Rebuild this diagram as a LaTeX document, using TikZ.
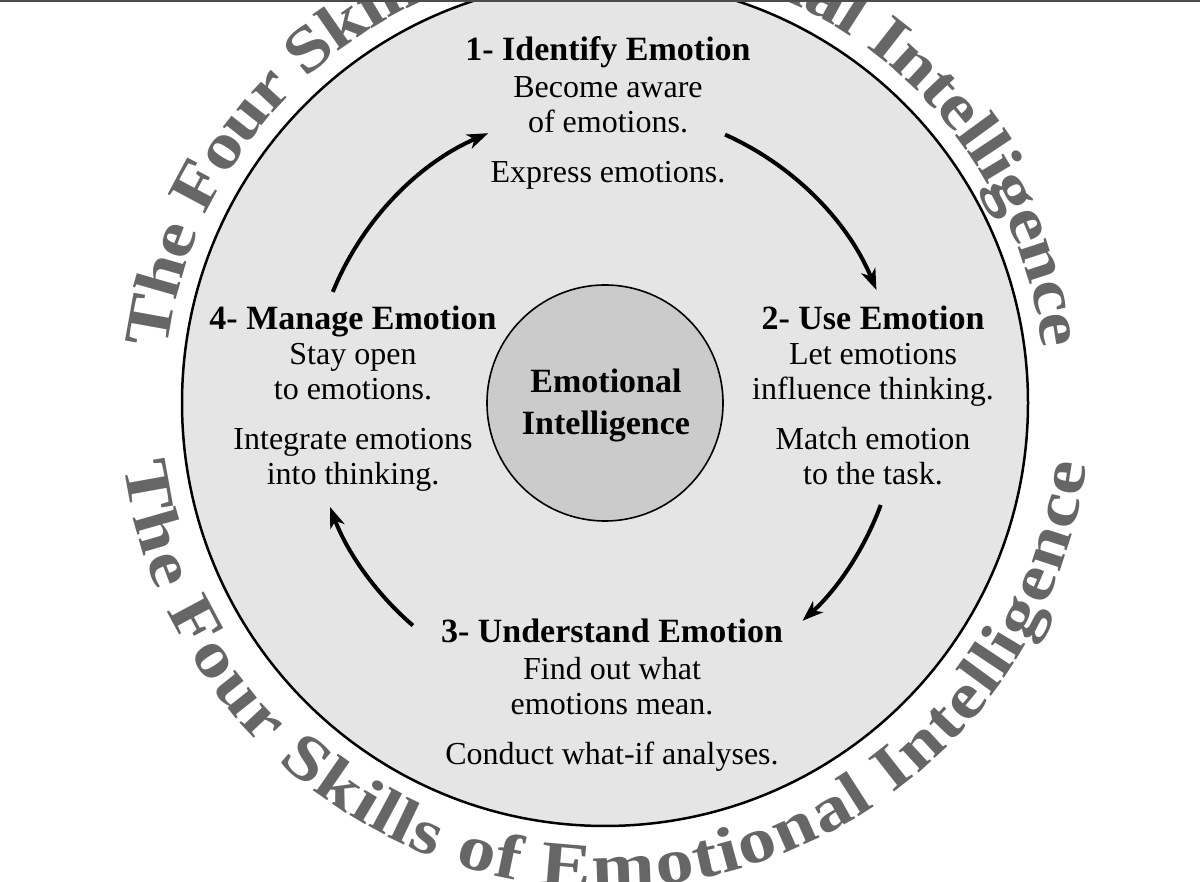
\documentclass[tikz,border=0pt]{standalone}
\usepackage{fontspec}
\setmainfont{Liberation Serif}
\newfontfamily\arcfont[FakeStretch=1.19]{Liberation Serif}
\usetikzlibrary{decorations.text,arrows.meta}
\definecolor{arcgray}{HTML}{666666}
\definecolor{outerfill}{HTML}{E5E5E5}
\definecolor{innerfill}{HTML}{CBCBCB}
\tikzset{
  head/.style={anchor=base, font=\bfseries\fontsize{34}{40}\selectfont, inner sep=0pt},
  body/.style={anchor=base, font=\fontsize{32}{38}\selectfont, inner sep=0pt},
  cyc/.style={line width=4pt, -{Stealth[length=21pt,width=15pt,inset=6pt]}},
  arctext/.style={decorate, decoration={text along path, text align=center,
      raise=-22pt, text color=arcgray,
      text={|\arcfont\bfseries\fontsize{64}{64}\selectfont|The Four Skills of Emotional Intelligence}}},
}
\begin{document}
\begin{tikzpicture}[x=1pt,y=1pt]
\clip (0,0) rectangle (1200,882);
\coordinate (C) at (605,479);
\coordinate (L) at (142,479);
% curved titles
\path[arctext] (L) arc[start angle=180,end angle=0,radius=463];
\path[arctext] (L) arc[start angle=180,end angle=360,radius=463];
% circles
\node[circle, draw, line width=2.5pt, fill=outerfill, minimum size=846pt, inner sep=0pt] (outer) at (C) {};
\node[circle, draw, line width=1.6pt, fill=innerfill, minimum size=236pt, inner sep=0pt] (inner) at (C) {};
\node[head] (ei1) at (606,489) {Emotional};
\node[head] (ei2) at (606,447) {Intelligence};
% block 1
\node[head] (h1) at (608,821.3) {1- Identify Emotion};
\node[body] (b1a) at (608,784.7) {Become aware};
\node[body] (b1b) at (608,749.3) {of emotions.};
\node[body] (b1c) at (608,699.3) {Express emotions.};
% block 2
\node[head] (h2) at (873,552) {2- Use Emotion};
\node[body] (b2a) at (873,517) {Let emotions};
\node[body] (b2b) at (873,482) {influence thinking.};
\node[body] (b2c) at (873,432.5) {Match emotion};
\node[body] (b2d) at (873,397) {to the task.};
% block 4
\node[head] (h4) at (353,552) {4- Manage Emotion};
\node[body] (b4a) at (353,517) {Stay open};
\node[body] (b4b) at (353,482) {to emotions.};
\node[body] (b4c) at (353,432.5) {Integrate emotions};
\node[body] (b4d) at (353,397) {into thinking.};
% block 3
\node[head] (h3) at (612,239) {3- Understand Emotion};
\node[body] (b3a) at (612,202) {Find out what};
\node[body] (b3b) at (612,167) {emotions mean.};
\node[body] (b3c) at (612,117) {Conduct what-if analyses.};
% cycle arrows
\coordinate (s41) at ([shift={(157.8:294)}]C);
\coordinate (s12) at ([shift={(65.9:294)}]C);
\coordinate (s23) at ([shift={(-20.3:294)}]C);
\coordinate (s34) at ([shift={(229.2:294)}]C);
\draw[cyc] (s41) arc[start angle=157.8,end angle=113.4,radius=294];
\draw[cyc] (s12) arc[start angle=65.9,end angle=22.6,radius=294];
\draw[cyc] (s23) arc[start angle=-20.3,end angle=-47.8,radius=294];
\draw[cyc] (s34) arc[start angle=229.2,end angle=200.7,radius=294];
% top rule
\fill[black!70] (0,879.5) rectangle (1200,882);
\end{tikzpicture}
\end{document}
